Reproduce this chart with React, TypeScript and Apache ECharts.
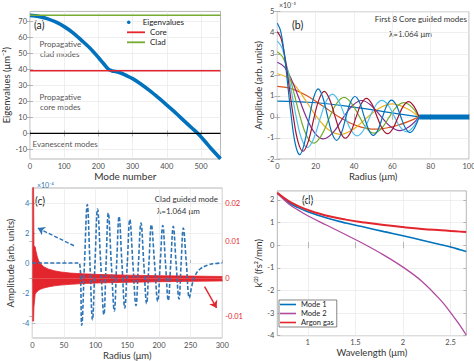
import React, { useEffect, useRef } from "react";
import * as echarts from "echarts";

const FONT = "Lato, 'Open Sans', 'DejaVu Sans', sans-serif";
const FRAME = "#a3a3a3";
const GRID_C = "#e8e8e8";
const TICK_TXT = "#4d4d4d";
const NAME_TXT = "#333333";
const BLUE = "#0072BD";
const RED = "#E3262E";

// ---------- (a) eigenvalues ----------
const modeNumbers = [0, 25, 50, 75, 100, 125, 150, 175, 200, 215, 230, 240, 250, 265, 280, 300, 325, 350, 375, 400, 425, 450, 475, 490, 510, 530, 557];
const eigenvalues = [73.5, 72.9, 71.5, 69.4, 66.5, 62.8, 58.1, 53.2, 47.3, 43.5, 39.8, 38.9, 38.5, 37.6, 36.2, 34.1, 30.6, 26.6, 22.2, 17.6, 12.9, 7.9, 3.0, 0, -4.6, -9.6, -15.8];
const coreLevel = 39.0;
const cladLevel = 73.6;
const modeMax = 557;
const aXTicks = [0, 100, 200, 300, 400, 500];
const aYTicks = [-10, 0, 10, 20, 30, 40, 50, 60, 70];

// ---------- (b) first 8 core guided modes (x1e-3) ----------
const coreModeNames = ["Core mode 1", "Core mode 2", "Core mode 3", "Core mode 4", "Core mode 5", "Core mode 6", "Core mode 7", "Core mode 8"];
const coreModeColors = ["#0072BD", "#D95319", "#EDB120", "#7E2F8E", "#77AC30", "#4DBEEE", "#A2142F", "#0072BD"];
const coreModeRadius = [
  [0, 18.5, 36.9, 55.4, 74],
  [0, 8.05, 16.09, 24.14, 32.25, 41.57, 51.39, 62.36, 74],
  [0, 5.13, 10.26, 15.39, 20.57, 26.51, 32.77, 39.76, 47.2, 53.44, 59.99, 66.95, 74],
  [0, 3.77, 7.53, 11.3, 15.09, 19.45, 24.05, 29.18, 34.64, 39.22, 44.03, 49.13, 54.3, 58.99, 63.84, 68.9, 74],
  [0, 2.97, 5.95, 8.92, 11.92, 15.36, 18.99, 23.05, 27.36, 30.98, 34.77, 38.81, 42.89, 46.59, 50.42, 54.42, 58.44, 62.2, 66.03, 70.03, 74],
  [0, 2.46, 4.91, 7.37, 9.85, 12.69, 15.69, 19.04, 22.6, 25.59, 28.73, 32.06, 35.44, 38.49, 41.66, 44.96, 48.29, 51.39, 54.56, 57.86, 61.14, 64.29, 67.45, 70.72, 74],
  [0, 2.09, 4.19, 6.28, 8.39, 10.82, 13.37, 16.22, 19.26, 21.81, 24.48, 27.32, 30.19, 32.8, 35.49, 38.31, 41.14, 43.79, 46.49, 49.3, 52.09, 54.78, 57.47, 60.25, 63.05, 65.73, 68.44, 71.21, 74],
  [0, 1.82, 3.65, 5.47, 7.31, 9.42, 11.65, 14.13, 16.78, 18.99, 21.32, 23.8, 26.3, 28.57, 30.92, 33.37, 35.84, 38.14, 40.49, 42.94, 45.38, 47.71, 50.06, 52.48, 54.92, 57.26, 59.61, 62.03, 64.46, 66.83, 69.17, 71.57, 74],
];
const coreModeAmp = [
  [0.75, 0.684, 0.503, 0.255, 0],
  [1.45, 1.322, 0.973, 0.493, 0, -0.423, -0.584, -0.41, 0],
  [2.05, 1.87, 1.376, 0.697, 0, -0.599, -0.826, -0.58, 0, 0.428, 0.615, 0.42, 0],
  [2.6, 2.371, 1.745, 0.884, 0, -0.759, -1.048, -0.736, 0, 0.543, 0.78, 0.533, 0, -0.458, -0.65, -0.458, 0],
  [3.1, 2.827, 2.08, 1.054, 0, -0.905, -1.249, -0.877, 0, 0.648, 0.93, 0.636, 0, -0.546, -0.775, -0.546, 0, 0.477, 0.676, 0.477, 0],
  [3.6, 3.283, 2.416, 1.224, 0, -1.051, -1.451, -1.019, 0, 0.752, 1.08, 0.738, 0, -0.634, -0.9, -0.634, 0, 0.554, 0.785, 0.554, 0, -0.5, -0.709, -0.5, 0],
  [4.05, 3.694, 2.718, 1.377, 0, -1.183, -1.632, -1.146, 0, 0.846, 1.215, 0.83, 0, -0.713, -1.013, -0.713, 0, 0.624, 0.883, 0.624, 0, -0.563, -0.798, -0.563, 0, 0.514, 0.729, 0.514, 0],
  [4.45, 4.058, 2.986, 1.513, 0, -1.299, -1.793, -1.259, 0, 0.93, 1.335, 0.912, 0, -0.783, -1.113, -0.783, 0, 0.685, 0.97, 0.685, 0, -0.619, -0.877, -0.619, 0, 0.565, 0.801, 0.565, 0, -0.525, -0.743, -0.525, 0],
];
const outsideCoreRadius = [74, 100];
const outsideCoreAmp = [0, 0];
const bXTicks = [0, 20, 40, 60, 80, 100];
const bYTicks = [-2, -1, 0, 1, 2, 3, 4, 5];

// ---------- (c) clad guided mode ----------
const cladRadius = [0, 74, 78, 82.4, 86.8, 91, 95, 99, 103, 108, 113, 116.5, 120, 124.7, 129.5, 133.2, 137, 141.5, 146, 150, 154, 158.8, 163.7, 167.6, 171.6, 176, 180.5, 184.2, 188, 193, 198, 202, 206, 210.3, 214.7, 218.6, 222.6, 227, 231.6, 235, 238.4, 243.2, 248, 252, 257, 265, 278, 290, 300];
const cladAmp = [0, 0, -4.15, 0, 3.9, 0, -3.78, 0, 3.6, 0, -3.44, 0, 3.33, 0, -3.2, 0, 3.1, 0, -3.0, 0, 2.9, 0, -2.84, 0, 2.67, 0, -2.7, 0, 2.56, 0, -2.55, 0, 2.5, 0, -2.5, 0, 2.44, 0, -2.4, 0, 2.33, 0, -2.33, -1.5, -0.85, -0.4, -0.13, -0.03, 0];
const coreFieldRadius = [0, 2, 2.6, 4.5, 6, 8, 10, 13, 18, 25, 35, 45, 60, 80, 110, 150, 200, 250, 300];
const coreFieldUpper = [0.0245, 0.0245, 0.0087, 0.0085, 0.0072, 0.0058, 0.0048, 0.004, 0.0032, 0.0026, 0.0021, 0.0018, 0.0015, 0.0013, 0.0011, 0.00095, 0.0008, 0.0007, 0.0006];
const coreFieldLower = [-0.0113, -0.0113, -0.0075, -0.0042, -0.0037, -0.0034, -0.0031, -0.0028, -0.0025, -0.0022, -0.0019, -0.0017, -0.0015, -0.0013, -0.0011, -0.00095, -0.0008, -0.0007, -0.0006];
const cXTicks = [0, 50, 100, 150, 200, 250, 300];
const cYLeftTicks = [-4, -2, 0, 2, 4];
const cYRightTicks = [-0.01, 0, 0.01, 0.02];

// ---------- (d) dispersion ----------
const wavelength = [0.68, 0.8, 0.9, 1.0, 1.2, 1.4, 1.6, 1.8, 2.0, 2.2, 2.4, 2.5, 2.6, 2.664];
const mode1K2 = [2.3, 1.88, 1.66, 1.48, 1.2, 0.98, 0.79, 0.6, 0.42, 0.22, 0.02, -0.08, -0.2, -0.28];
const mode2K2 = [2.3, 1.82, 1.55, 1.3, 0.88, 0.46, 0.03, -0.44, -0.97, -1.6, -2.45, -2.98, -3.55, -3.97];
const argonK2 = [2.32, 1.95, 1.73, 1.56, 1.3, 1.13, 1.0, 0.89, 0.8, 0.72, 0.66, 0.63, 0.6, 0.58];
const dXTicks = [1, 1.5, 2, 2.5];
const dYTicks = [-4, -3, -2, -1, 0, 1, 2];

const zip = (xs: number[], ys: number[]) => xs.map((x, i) => [x, ys[i]]);

function valueAxis(gridIndex: number, min: number, max: number, ticks: number[], labelColor = TICK_TXT) {
  return {
    type: "value",
    gridIndex,
    min,
    max,
    axisLine: { show: false },
    axisTick: { show: true, inside: true, length: 3, customValues: ticks, lineStyle: { color: FRAME, width: 0.8 } },
    axisLabel: { show: true, customValues: ticks, fontSize: 7.5, fontFamily: FONT, color: labelColor, margin: 3 },
    splitLine: { show: true, lineStyle: { color: GRID_C, width: 0.7 } },
  } as any;
}
function mirrorAxis(gridIndex: number, min: number, max: number, ticks: number[], position: string) {
  return {
    type: "value",
    gridIndex,
    min,
    max,
    position,
    axisLine: { show: false },
    axisLabel: { show: false },
    splitLine: { show: false },
    axisTick: { show: true, inside: true, length: 3, customValues: ticks, lineStyle: { color: FRAME, width: 0.8 } },
  } as any;
}
const nameStyle = { fontSize: 9.5, fontFamily: FONT, color: NAME_TXT };

function text(x: number, y: number, t: string, size = 8, fill = "#333", align = "left") {
  return {
    type: "text",
    x,
    y,
    silent: true,
    style: { text: t, fontSize: size, fontFamily: FONT, fill, align, verticalAlign: "middle" },
  };
}

function buildOption() {
  const grids = [
    { left: 30, top: 11.4, width: 190.5, height: 147.6 },
    { left: 277.3, top: 11.7, width: 191.7, height: 147.3 },
    { left: 32.3, top: 188, width: 190, height: 150 },
    { left: 277.3, top: 190.9, width: 189, height: 144.8 },
  ].map((g) => ({ ...g, show: true, borderColor: FRAME, borderWidth: 0.8, backgroundColor: "#fff", containLabel: false, outerBoundsMode: "none" }));

  const xA = valueAxis(0, 0, modeMax, aXTicks);
  xA.name = "Mode number"; xA.nameLocation = "middle"; xA.nameGap = 11; xA.nameTextStyle = { ...nameStyle, fontSize: 10 };
  const xB = valueAxis(1, 0, 100, bXTicks);
  xB.name = "Radius (μm)"; xB.nameLocation = "middle"; xB.nameGap = 12; xB.nameTextStyle = nameStyle;
  const xC = valueAxis(2, 0, 300, cXTicks);
  xC.name = "Radius (μm)"; xC.nameLocation = "middle"; xC.nameGap = 12; xC.nameTextStyle = nameStyle;
  const xD = valueAxis(3, 0.68, 2.665, dXTicks);
  xD.name = "Wavelength (μm)"; xD.nameLocation = "middle"; xD.nameGap = 12; xD.nameTextStyle = nameStyle;

  const yA = valueAxis(0, -16, 76, aYTicks);
  yA.name = "Eigenvalues (μm⁻²)"; yA.nameLocation = "middle"; yA.nameGap = 15; yA.nameTextStyle = nameStyle;
  const yB = valueAxis(1, -2, 5, bYTicks);
  yB.name = "Amplitude (arb. units)"; yB.nameLocation = "middle"; yB.nameGap = 14; yB.nameTextStyle = nameStyle;
  const yCL = valueAxis(2, -5, 5, cYLeftTicks, "#2E78B7");
  yCL.name = "Amplitude (arb. units)"; yCL.nameLocation = "middle"; yCL.nameGap = 17; yCL.nameTextStyle = nameStyle;
  const yCR = valueAxis(2, -0.01581, 0.02419, cYRightTicks, RED);
  yCR.position = "right"; yCR.splitLine = { show: false };
  const yD = valueAxis(3, -4, 2.4, dYTicks);
  yD.name = "k⁽²⁾ (fs²/mm)"; yD.nameLocation = "middle"; yD.nameGap = 13; yD.nameTextStyle = nameStyle;

  const xAxis = [xA, xB, xC, xD,
    mirrorAxis(0, 0, modeMax, aXTicks, "top"),
    mirrorAxis(1, 0, 100, bXTicks, "top"),
    mirrorAxis(2, 0, 300, cXTicks, "top"),
    mirrorAxis(3, 0.68, 2.665, dXTicks, "top"),
  ];
  const yAxis = [yA, yB, yCL, yCR, yD,
    mirrorAxis(0, -16, 76, aYTicks, "right"),
    mirrorAxis(1, -2, 5, bYTicks, "right"),
    mirrorAxis(3, -4, 2.4, dYTicks, "right"),
  ];

  const series: any[] = [];
  // (a)
  series.push({ type: "line", name: "Eigenvalues", xAxisIndex: 0, yAxisIndex: 0, data: zip(modeNumbers, eigenvalues), symbol: "none", smooth: 0.3, lineStyle: { color: BLUE, width: 3.6 }, itemStyle: { color: BLUE } });
  series.push({ type: "line", name: "Core", xAxisIndex: 0, yAxisIndex: 0, data: [[0, coreLevel], [modeMax, coreLevel]], symbol: "none", lineStyle: { color: RED, width: 1.6 }, itemStyle: { color: RED } });
  series.push({ type: "line", name: "Clad", xAxisIndex: 0, yAxisIndex: 0, data: [[0, cladLevel], [modeMax, cladLevel]], symbol: "none", lineStyle: { color: "#77AC30", width: 1.4 }, itemStyle: { color: "#77AC30" } });
  series.push({ type: "line", name: "Zero level", xAxisIndex: 0, yAxisIndex: 0, data: [[0, 0], [modeMax, 0]], symbol: "none", lineStyle: { color: "#000", width: 1.2 }, itemStyle: { color: "#000" } });
  // (b)
  coreModeNames.forEach((n, i) => {
    series.push({ type: "line", name: n, xAxisIndex: 1, yAxisIndex: 1, data: zip(coreModeRadius[i], coreModeAmp[i]), symbol: "none", smooth: 0.4, lineStyle: { color: coreModeColors[i], width: 1.2 }, itemStyle: { color: coreModeColors[i] } });
  });
  series.push({ type: "line", name: "Outside core", xAxisIndex: 1, yAxisIndex: 1, data: zip(outsideCoreRadius, outsideCoreAmp), symbol: "none", lineStyle: { color: BLUE, width: 5 }, itemStyle: { color: BLUE } });
  // (c)
  series.push({
    type: "line", name: "Clad guided mode", xAxisIndex: 2, yAxisIndex: 2, data: zip(cladRadius, cladAmp), symbol: "none", smooth: 0.4,
    lineStyle: { color: "#2E75B6", width: 1.6, type: [4, 2] }, itemStyle: { color: "#2E75B6" },
    markLine: { silent: true, symbol: ["none", "arrow"], symbolSize: 7, label: { show: false }, lineStyle: { color: "#2E75B6", width: 1.4, type: [4, 2] },
      data: [[{ coord: [65.8, 1.15] }, { coord: [8.5, 2.33] }]] },
  });
  series.push({
    type: "line", name: "Core field upper", xAxisIndex: 2, yAxisIndex: 3, data: zip(coreFieldRadius, coreFieldUpper), symbol: "none",
    lineStyle: { color: RED, width: 0.8 }, itemStyle: { color: RED }, areaStyle: { color: RED, opacity: 1 },
    markLine: { silent: true, symbol: ["none", "arrow"], symbolSize: 7, label: { show: false }, lineStyle: { color: RED, width: 1.4, type: "solid" },
      data: [[{ coord: [272, -0.0021] }, { coord: [291, -0.0078] }]] },
  });
  series.push({
    type: "line", name: "Core field lower", xAxisIndex: 2, yAxisIndex: 3, data: zip(coreFieldRadius, coreFieldLower), symbol: "none",
    lineStyle: { color: RED, width: 0.8 }, itemStyle: { color: RED }, areaStyle: { color: RED, opacity: 1 },
  });
  // (d)
  series.push({ type: "line", name: "Mode 1", xAxisIndex: 3, yAxisIndex: 4, data: zip(wavelength, mode1K2), symbol: "none", smooth: 0.4, lineStyle: { color: BLUE, width: 1.6 }, itemStyle: { color: BLUE } });
  series.push({ type: "line", name: "Mode 2", xAxisIndex: 3, yAxisIndex: 4, data: zip(wavelength, mode2K2), symbol: "none", smooth: 0.4, lineStyle: { color: "#B04A9E", width: 1.3 }, itemStyle: { color: "#B04A9E" } });
  series.push({ type: "line", name: "Argon gas", xAxisIndex: 3, yAxisIndex: 4, data: zip(wavelength, argonK2), symbol: "none", smooth: 0.4, lineStyle: { color: RED, width: 2 }, itemStyle: { color: RED } });

  const legendText = { fontSize: 8, fontFamily: FONT, color: "#222" };
  const legend = [
    { data: [{ name: "Eigenvalues", icon: "circle" }], orient: "vertical", left: 127, top: 18.3, itemWidth: 18, itemHeight: 3.5, itemGap: 2, padding: 0, textStyle: legendText, selectedMode: false },
    { data: [{ name: "Core", icon: "rect" }, { name: "Clad", icon: "rect" }], orient: "vertical", left: 127, top: 28.3, itemWidth: 18, itemHeight: 1.8, itemGap: 2, padding: 0, textStyle: legendText, selectedMode: false },
    { data: [{ name: "Mode 1", icon: "rect" }, { name: "Mode 2", icon: "rect" }, { name: "Argon gas", icon: "rect" }], orient: "vertical", left: 279, top: 300, itemWidth: 16, itemHeight: 1.6, itemGap: 1, padding: [0.5, 3, 0.5, 1],
      borderColor: "#333", borderWidth: 0.6, backgroundColor: "#fff", textStyle: { ...legendText, fontSize: 7.5 }, selectedMode: false },
  ];

  const graphic = [
    text(34, 24.7, "(a)", 10.5, "#222"),
    text(39.5, 44.3, "Propagative", 8, "#555"),
    text(40, 53.5, "clad modes", 8, "#555"),
    text(39.5, 96.7, "Propagative", 8, "#555"),
    text(40, 106.7, "core modes", 8, "#555"),
    text(32.5, 144.3, "Evanescent modes", 8, "#555"),
    text(292, 25, "(b)", 10.5, "#222"),
    text(467, 19, "First 8 Core guided modes", 8, "#333", "right"),
    text(389, 34, "λ=1.064 μm", 8, "#333"),
    text(279, 5, "×10⁻³", 7, "#444"),
    text(35, 201, "(c)", 10.5, "#222"),
    text(218, 199, "Clad guided mode", 8, "#333", "right"),
    text(157, 210.5, "λ=1.064 μm", 8, "#333"),
    text(37, 185, "×10⁻⁴", 7, "#2E78B7"),
    text(302, 200, "(d)", 10.5, "#222"),
  ];

  return { animation: false, backgroundColor: "#fff", grid: grids, xAxis, yAxis, series, legend, graphic, tooltip: { show: false } };
}

export default function App() {
  const ref = useRef<HTMLDivElement>(null);
  useEffect(() => {
    document.body.style.margin = "0";
    if (!ref.current) return;
    const chart = echarts.init(ref.current, null, { renderer: "svg" });
    chart.setOption(buildOption() as any);
    return () => chart.dispose();
  }, []);
  return <div ref={ref} style={{ width: 474, height: 361, background: "#fff" }} />;
}
